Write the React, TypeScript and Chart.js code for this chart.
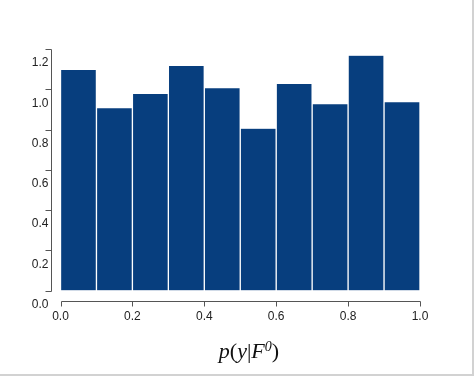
import React, { useEffect, useRef } from "react";
import { Chart, registerables } from "chart.js";

Chart.register(...registerables);

// ---- data ----
const binStarts = [0.0, 0.1, 0.2, 0.3, 0.4, 0.5, 0.6, 0.7, 0.8, 0.9];
const binWidth = 0.1;
const density = [1.096, 0.905, 0.976, 1.116, 1.005, 0.804, 1.026, 0.925, 1.167, 0.935];
const yTicks = [0.0, 0.2, 0.4, 0.6, 0.8, 1.0, 1.2];
const xTicks = [0.0, 0.2, 0.4, 0.6, 0.8, 1.0];

const BAR_COLOR = "#073e7e";
const AXIS_COLOR = "#555555";
const TEXT_COLOR = "#222222";

const detachedAxes = {
  id: "detachedAxes",
  afterDraw(chart: any) {
    const { ctx, chartArea, scales } = chart;
    const x = scales.x;
    const y = scales.y;
    ctx.save();
    ctx.strokeStyle = AXIS_COLOR;
    ctx.lineWidth = 1;
    ctx.beginPath();
    // y axis (detached to the left)
    const yx = Math.round(chartArea.left - 9.5) + 0.5;
    const yTop = Math.round(y.getPixelForValue(yTicks[yTicks.length - 1])) + 0.5;
    const yBot = Math.round(y.getPixelForValue(yTicks[0])) + 0.5;
    ctx.moveTo(yx, yTop);
    ctx.lineTo(yx, yBot);
    yTicks.forEach((v) => {
      const py = Math.round(y.getPixelForValue(v)) + 0.5;
      ctx.moveTo(yx, py);
      ctx.lineTo(yx - 6, py);
    });
    // x axis (detached below)
    const xy = Math.round(chartArea.bottom + 10.5) + 0.5;
    const xL = Math.round(x.getPixelForValue(xTicks[0])) + 0.5;
    const xR = Math.round(x.getPixelForValue(xTicks[xTicks.length - 1])) + 0.5;
    ctx.moveTo(xL, xy);
    ctx.lineTo(xR, xy);
    xTicks.forEach((v) => {
      const px = Math.round(x.getPixelForValue(v)) + 0.5;
      ctx.moveTo(px, xy);
      ctx.lineTo(px, xy + 5);
    });
    ctx.stroke();
    ctx.restore();
  },
};

export default function App() {
  const canvasRef = useRef<HTMLCanvasElement | null>(null);

  useEffect(() => {
    document.body.style.margin = "0";
    const canvas = canvasRef.current;
    if (!canvas) return;
    const data = binStarts.map((b, i) => ({ x: b + binWidth / 2, y: density[i] }));
    const chart = new Chart(canvas, {
      type: "bar",
      data: {
        datasets: [
          {
            data,
            backgroundColor: BAR_COLOR,
            borderColor: "#ffffff",
            borderWidth: { top: 0, bottom: 0, left: 1, right: 1 },
            borderSkipped: false,
            barPercentage: 1,
            categoryPercentage: 1,
          },
        ],
      },
      options: {
        responsive: false,
        animation: false,
        layout: { padding: { top: 49, right: 52, bottom: 0, left: 0 } },
        plugins: { legend: { display: false }, tooltip: { enabled: false } },
        scales: {
          x: {
            type: "linear",
            min: 0,
            max: 1,
            offset: false,
            grid: { display: false, drawTicks: false },
            border: { display: false },
            afterBuildTicks: (scale: any) => {
              scale.ticks = xTicks.map((v) => ({ value: v }));
            },
            afterFit: (scale: any) => {
              scale.height = 83.5;
            },
            ticks: {
              padding: 19,
              color: TEXT_COLOR,
              font: { family: "'Liberation Sans', Arial, sans-serif", size: 12 },
              callback: (v: any) => Number(v).toFixed(1),
              maxRotation: 0,
            },
          },
          y: {
            type: "linear",
            min: 0,
            max: 1.2,
            grid: { display: false, drawTicks: false },
            border: { display: false },
            afterBuildTicks: (scale: any) => {
              scale.ticks = yTicks.map((v) => ({ value: v }));
            },
            afterFit: (scale: any) => {
              scale.width = 60.5;
            },
            ticks: {
              padding: 12,
              labelOffset: 14,
              color: TEXT_COLOR,
              font: { family: "'Liberation Sans', Arial, sans-serif", size: 12 },
              callback: (v: any) => Number(v).toFixed(1),
            },
          },
        },
      },
      plugins: [detachedAxes],
    });
    return () => chart.destroy();
  }, []);

  return (
    <div
      style={{
        position: "relative",
        width: 474,
        height: 376,
        boxSizing: "border-box",
        borderRight: "2px solid #d2d2d2",
        borderBottom: "2px solid #d2d2d2",
        background: "#ffffff",
        overflow: "hidden",
      }}
    >
      <canvas ref={canvasRef} width={472} height={374} style={{ display: "block" }} />
      <div
        style={{
          position: "absolute",
          left: 0,
          width: 498,
          top: 338,
          textAlign: "center",
          fontFamily: "'Liberation Serif', 'Times New Roman', serif",
          fontSize: 22,
          lineHeight: "26px",
          color: "#111111",
          whiteSpace: "nowrap",
        }}
      >
        <i>p</i>(<i>y</i>|<i>F</i>
        <sup style={{ fontSize: 14, lineHeight: 0, verticalAlign: "7px" }}>
          <i>0</i>
        </sup>
        )
      </div>
    </div>
  );
}
